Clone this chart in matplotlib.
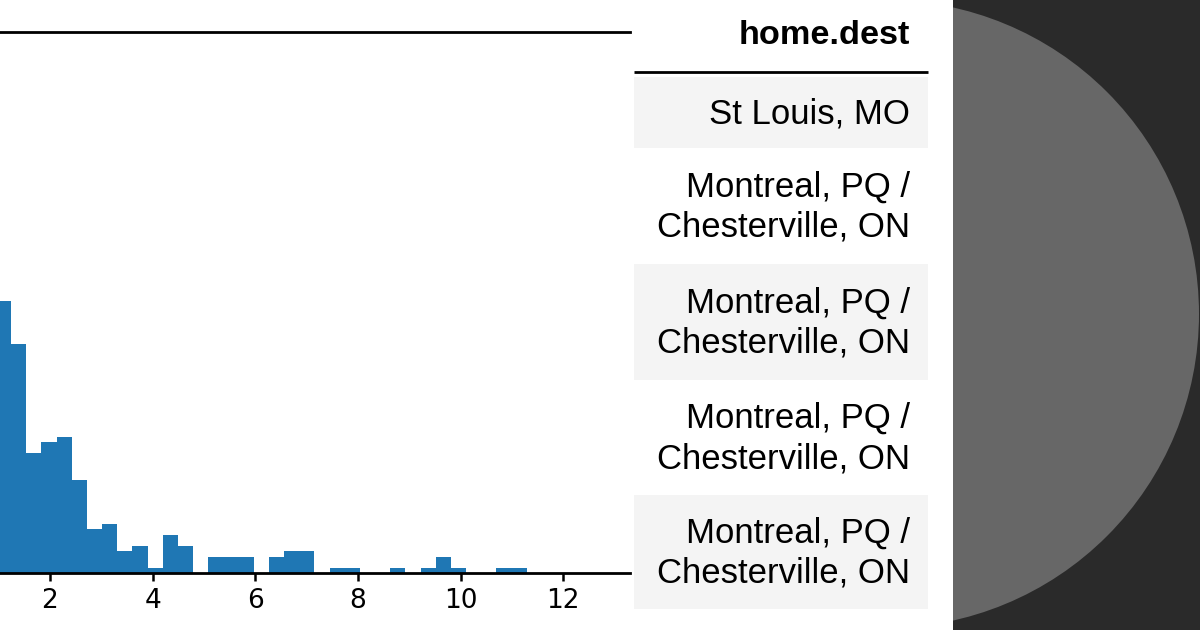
import numpy as np
import matplotlib
matplotlib.use("Agg")
import matplotlib.pyplot as plt
from matplotlib.patches import Rectangle, Circle

# histogram (visible part), counts per bin
bin_start = 0.945
bin_width = 0.2955
counts = [50, 42, 22, 24, 25, 17, 8, 9, 4, 5, 1, 7, 5, 0, 3, 3, 3, 0, 3, 4,
          4, 0, 1, 1, 0, 0, 1, 0, 1, 3, 1, 0, 0, 1, 1]
xticks = [2, 4, 6, 8, 10, 12]

# table
header = "home.dest"
rows = ["St Louis, MO",
        "Montreal, PQ /\nChesterville, ON",
        "Montreal, PQ /\nChesterville, ON",
        "Montreal, PQ /\nChesterville, ON",
        "Montreal, PQ /\nChesterville, ON"]

W, H = 1200, 630
fig = plt.figure(figsize=(12, 6.3), dpi=100)
fig.patch.set_facecolor("white")

# histogram axes, pixel box: x 0..630, y 31.5..573
ax = fig.add_axes([0, (H - 573) / H, 630 / W, (573 - 31.5) / H])
edges = bin_start + bin_width * np.arange(len(counts) + 1)
ax.hist(edges[:-1], bins=edges, weights=counts, color="#1f77b4")
ax.set_xlim(2 - 50 / 51.33, 2 + 580 / 51.33)
ax.set_ylim(0, 99.4)
ax.set_xticks(xticks)
ax.set_yticks([])
ax.spines["left"].set_visible(False)
ax.spines["right"].set_visible(False)
ax.spines["top"].set_linewidth(2)
ax.spines["bottom"].set_linewidth(2)
ax.tick_params(axis="x", labelsize=19, width=1.8, length=6, pad=5)

# overlay in pixel coordinates for the table and the right panel
ov = fig.add_axes([0, 0, 1, 1], facecolor="none")
ov.set_xlim(0, W)
ov.set_ylim(H, 0)
ov.axis("off")

tx0, tx1 = 634, 928
text_right = 910
row_edges = [77, 148, 264, 380, 495, 609]
font = ["Liberation Sans", "DejaVu Sans"]

ov.text(text_right, 35, header, ha="right", va="center", fontsize=24.7,
        fontweight="bold", family=font)
ov.plot([tx0, tx1], [72, 72], color="black", lw=2, solid_capstyle="butt")

for i, label in enumerate(rows):
    top, bot = row_edges[i], row_edges[i + 1]
    if i % 2 == 0:
        ov.add_patch(Rectangle((tx0, top), tx1 - tx0, bot - top,
                               facecolor="#f4f4f4", edgecolor="none"))
    ov.text(text_right, (top + bot) / 2 + 1, label, ha="right", va="center",
            fontsize=25, family=font, linespacing=1.28)

# dark panel with gray circle
panel = Rectangle((953, 0), W - 953, H, facecolor="#2a2a2a", edgecolor="none")
ov.add_patch(panel)
circ = Circle((885, 314), 314, facecolor="#676767", edgecolor="none")
ov.add_patch(circ)
circ.set_clip_path(panel)

fig.savefig("out.png", dpi=100)
